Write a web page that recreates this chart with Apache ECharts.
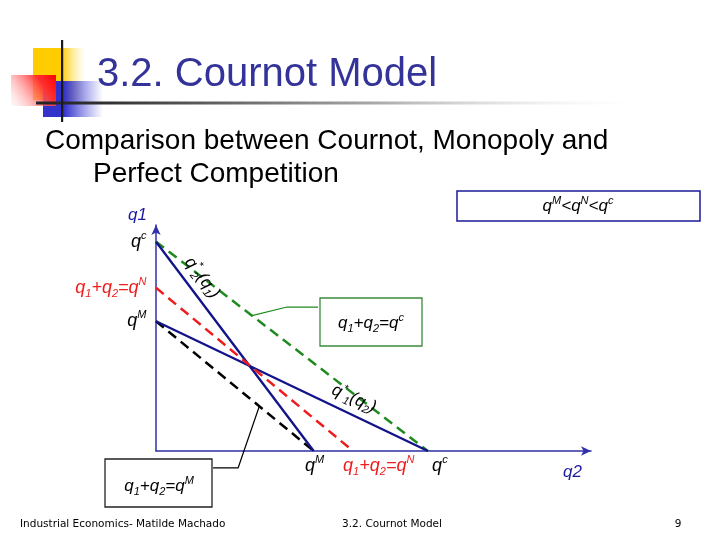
<!DOCTYPE html>
<html>
<head>
<meta charset="utf-8">
<script src="https://cdn.jsdelivr.net/npm/echarts@6/dist/echarts.min.js"></script>
<style>
html,body{margin:0;padding:0;background:#ffffff;}
#chart{width:720px;height:540px;}
</style>
</head>
<body>
<div id="chart"></div>
<script>
// ---------------- data (axis units; competitive output normalised to 10) ----------------
const q2AxisMarks = [5.8, 7.25, 10];            // qM, qN, qc on the q2 axis
const q1AxisMarks = [6.2, 7.8, 10];             // qM, qN, qc on the q1 axis
const markNames = ['M', 'N', 'c'];
const reactionQ2 = [[0, 10], [5.8, 0]];         // q*2(q1)
const reactionQ1 = [[0, 6.2], [10, 0]];         // q*1(q2)
const isoCompetition = [[0, 10], [10, 0]];      // q1+q2=qc
const isoNash = [[0, 7.8], [7.25, 0]];          // q1+q2=qN
const isoMonopoly = [[0, 6.2], [5.8, 0]];       // q1+q2=qM
const leaderCompetition = [[3.53, 6.47], [4.82, 6.88], [5.96, 6.88]];
const leaderMonopoly = [[3.8, 2.14], [3.02, -0.81], [2.1, -0.81]];
const xRange = [0, 16];
const yRange = [0, 10.8];

// ---------------- styles ----------------
const F = '"Liberation Sans", Arial, sans-serif';
const NAVY = '#12128a', AXIS = '#3030a8', RED = '#ee1c1c', GREEN = '#1f8a1f', BLACK = '#000000';

function makeRich(color, size) {
  size = size || 18;
  const small = Math.round(size * 0.62);
  return {
    b:   { fontSize: size, fontStyle: 'italic', fontFamily: F, color: color, lineHeight: size + 5, verticalAlign: 'middle', opacity: 1 },
    sup: { fontSize: small, fontStyle: 'italic', fontFamily: F, color: color, verticalAlign: 'top', opacity: 1 },
    sub: { fontSize: small, fontStyle: 'italic', fontFamily: F, color: color, verticalAlign: 'bottom', opacity: 1 }
  };
}
const qText = s => `{b|q}{sup|${s}}`;
const sumText = s => `{b|q}{sub|1}{b|+q}{sub|2}{b|=q}{sup|${s}}`;

function lineSeries(data, color, dashed, width) {
  return {
    type: 'line', data: data, symbol: 'none', silent: true, animation: false, clip: false,
    lineStyle: { color: color, width: width || 2.2, type: dashed ? [10, 6] : 'solid' }
  };
}

const chart = echarts.init(document.getElementById('chart'), null, { renderer: 'canvas' });

const yLabelData = q1AxisMarks.map((v, i) => ({
  value: [0, v],
  label: {
    show: true, position: 'left', distance: 9, opacity: 1,
    formatter: i === 1 ? sumText(markNames[i]) : qText(markNames[i]),
    rich: makeRich(i === 1 ? RED : BLACK, 18)
  }
}));
const xLabelOffsets = [[1, 15], [-10, 15], [12, 15]];
const xLabelData = q2AxisMarks.map((v, i) => ({
  value: [v, 0],
  label: {
    show: true, position: 'inside', offset: xLabelOffsets[i], align: i === 1 ? 'left' : 'center', opacity: 1,
    formatter: i === 1 ? sumText(markNames[i]) : qText(markNames[i]),
    rich: makeRich(i === 1 ? RED : BLACK, 18)
  }
}));

chart.setOption({
  animation: false,
  backgroundColor: '#ffffff',
  grid: { left: 156, top: 225, right: 129, bottom: 89, containLabel: false },
  xAxis: {
    type: 'value', min: xRange[0], max: xRange[1],
    axisLine: { show: true, symbol: ['none', 'arrow'], symbolSize: [7, 10], lineStyle: { color: AXIS, width: 1.5 } },
    axisTick: { show: false }, axisLabel: { show: false }, splitLine: { show: false }
  },
  yAxis: {
    type: 'value', min: yRange[0], max: yRange[1],
    axisLine: { show: true, symbol: ['none', 'arrow'], symbolSize: [7, 10], lineStyle: { color: AXIS, width: 1.5 } },
    axisTick: { show: false }, axisLabel: { show: false }, splitLine: { show: false }
  },
  series: [
    lineSeries(isoCompetition, GREEN, true, 2.5),
    lineSeries(isoMonopoly, BLACK, true, 2.5),
    lineSeries(reactionQ2, NAVY, false, 2.3),
    lineSeries(reactionQ1, NAVY, false, 2.3),
    lineSeries(isoNash, RED, true, 2.5),
    lineSeries(leaderCompetition, GREEN, false, 1.2),
    lineSeries(leaderMonopoly, BLACK, false, 1.2),
    {
      type: 'scatter', symbolSize: 1, silent: true, animation: false, z: 5,
      itemStyle: { color: 'rgba(0,0,0,0)', opacity: 1 },
      data: yLabelData.concat(xLabelData)
    }
  ]
});

// ---------------- annotations positioned through the chart's scales ----------------
const px = p => chart.convertToPixel({ gridIndex: 0 }, p);
function along(line, t) {
  return [line[0][0] + (line[1][0] - line[0][0]) * t, line[0][1] + (line[1][1] - line[0][1]) * t];
}
function angleOf(line) {
  const a = px(line[0]), b = px(line[1]);
  return Math.atan2(b[1] - a[1], b[0] - a[0]);
}
const r2Pos = px(along(reactionQ2, 0.172));
const r1Pos = px(along(reactionQ1, 0.728));

function txt(x, y, text, color, size, opts) {
  return Object.assign({
    type: 'text', x: x, y: y, silent: true,
    style: Object.assign({
      text: text, fill: color, font: size + 'px ' + F, align: 'left', verticalAlign: 'middle'
    }, (opts && opts.style) || {})
  }, (opts && opts.el) || {});
}

const FOOT = '10.5px "DejaVu Sans", sans-serif';
const graphics = [
  // slide decoration
  { type: 'rect', shape: { x: 33, y: 48, width: 52, height: 52 }, silent: true, z: 1,
    style: { fill: { type: 'linear', x: 0, y: 0, x2: 1, y2: 0, colorStops: [
      { offset: 0, color: '#ffcc00' }, { offset: 0.55, color: '#ffcc00' }, { offset: 1, color: 'rgba(255,230,120,0)' }] } } },
  { type: 'rect', shape: { x: 43, y: 81, width: 60, height: 36 }, silent: true, z: 2,
    style: { fill: { type: 'linear', x: 0, y: 0, x2: 1, y2: 0, colorStops: [
      { offset: 0, color: '#3333cc' }, { offset: 0.35, color: '#3333cc' }, { offset: 1, color: 'rgba(80,80,220,0)' }] } } },
  { type: 'rect', shape: { x: 11, y: 75, width: 45, height: 31 }, silent: true, z: 3,
    style: { fill: { type: 'linear', x: 1, y: 0, x2: 0, y2: 1, colorStops: [
      { offset: 0, color: '#ff0000' }, { offset: 0.3, color: '#ff3030' }, { offset: 1, color: 'rgba(255,220,220,0.2)' }] } } },
  { type: 'rect', shape: { x: 36, y: 101.5, width: 622, height: 3 }, silent: true, z: 4,
    style: { fill: { type: 'linear', x: 0, y: 0, x2: 1, y2: 0, colorStops: [
      { offset: 0, color: '#222222' }, { offset: 0.12, color: '#333333' }, { offset: 0.55, color: '#aaaaaa' }, { offset: 1, color: 'rgba(255,255,255,0)' }] } } },
  { type: 'rect', shape: { x: 61, y: 40, width: 2.2, height: 82 }, silent: true, z: 4, style: { fill: '#1a1a1a' } },

  // title & subtitle
  txt(97, 75, '3.2. Cournot Model', '#333399', 40),
  txt(45, 141, 'Comparison between Cournot, Monopoly and', '#000000', 28),
  txt(93, 174, 'Perfect Competition', '#000000', 28),

  // axis names
  txt(128, 215, 'q1', '#1a1aa0', 17, { style: { font: 'italic 17px ' + F } }),
  txt(563, 472, 'q2', '#1a1aa0', 17, { style: { font: 'italic 17px ' + F } }),

  // curve labels
  { type: 'text', x: r2Pos[0] + 19, y: r2Pos[1], rotation: -angleOf(reactionQ2), silent: true, z: 6,
    style: { text: '{b|q}{sup|*}{sub|2}{b|(q}{sub|1}{b|)}', rich: makeRich(NAVY, 17), align: 'center', verticalAlign: 'middle' } },
  { type: 'text', x: r1Pos[0], y: r1Pos[1] - 17, rotation: -angleOf(reactionQ1) + 0.03, silent: true, z: 6,
    style: { text: '{b|q}{sup|*}{sub|1}{b|(q}{sub|2}{b|)}', rich: makeRich(NAVY, 17), align: 'center', verticalAlign: 'middle' } },

  // boxes
  { type: 'rect', shape: { x: 457, y: 191, width: 243, height: 30 }, silent: true,
    style: { fill: '#ffffff', stroke: '#1a1a9a', lineWidth: 1.5 } },
  { type: 'text', x: 578, y: 206, silent: true,
    style: { text: '{b|q}{sup|M}{b|<q}{sup|N}{b|<q}{sup|c}', rich: makeRich(NAVY, 17), align: 'center', verticalAlign: 'middle' } },
  { type: 'rect', shape: { x: 320, y: 298, width: 102, height: 48 }, silent: true,
    style: { fill: '#ffffff', stroke: '#3a8a3a', lineWidth: 1.3 } },
  { type: 'text', x: 371, y: 323, silent: true,
    style: { text: sumText('c'), rich: makeRich(GREEN, 17), align: 'center', verticalAlign: 'middle' } },
  { type: 'rect', shape: { x: 105, y: 459, width: 107, height: 48 }, silent: true,
    style: { fill: '#ffffff', stroke: '#222222', lineWidth: 1.3 } },
  { type: 'text', x: 159, y: 486, silent: true,
    style: { text: sumText('M'), rich: makeRich(BLACK, 17), align: 'center', verticalAlign: 'middle' } },

  // footer
  txt(20, 524, 'Industrial Economics- Matilde Machado', '#000000', 10, { style: { font: FOOT } }),
  txt(392, 524, '3.2. Cournot Model', '#000000', 10, { style: { font: FOOT, align: 'center' } }),
  txt(678, 524, '9', '#000000', 10, { style: { font: FOOT, align: 'center' } })
];

chart.setOption({ graphic: graphics });
</script>
</body>
</html>
